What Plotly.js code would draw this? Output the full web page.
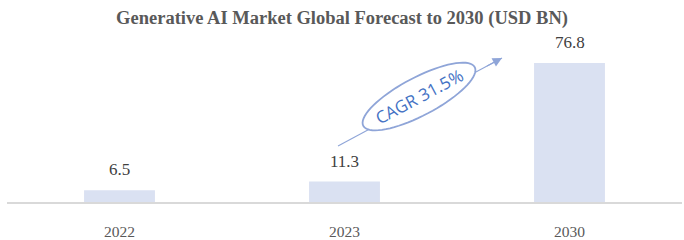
<!DOCTYPE html>
<html>
<head>
<meta charset="utf-8">
<script src="https://cdn.plot.ly/plotly-3.0.1.min.js"></script>
<style>html,body{margin:0;padding:0;background:#fff;}#chart{width:684px;height:240px;}</style>
</head>
<body>
<div id="chart"></div>
<script>
const years = ["2022", "2023", "2030"];
const marketSize = [6.5, 11.3, 76.8];
const cagrLabel = "CAGR 31.5%";

const W = 684, H = 240;
const M = {l: 7, r: 2, t: 40, b: 38};
const PW = W - M.l - M.r, PH = H - M.t - M.b;
const px = x => (x - M.l) / PW;
const py = y => (H - M.b - y) / PH;

// ellipse path in paper coords
const cx = 419, cy = 96.5, a = 63, b = 19, ang = -27.8 * Math.PI / 180;
let path = "";
for (let i = 0; i <= 72; i++) {
  const t = i / 72 * 2 * Math.PI;
  const ex = a * Math.cos(t), ey = b * Math.sin(t);
  const X = cx + ex * Math.cos(ang) - ey * Math.sin(ang);
  const Y = cy + ex * Math.sin(ang) + ey * Math.cos(ang);
  path += (i === 0 ? "M" : "L") + px(X).toFixed(5) + "," + py(Y).toFixed(5);
}
path += "Z";

const tail = [338, 146], head = [502, 58];

// category index positions (category axis treats numeric-looking strings as indices)
const labelAnn = years.map((yr, i) => ({
  x: i, y: marketSize[i], xref: "x", yref: "y",
  text: String(marketSize[i]), showarrow: false,
  yanchor: "bottom", yshift: 9,
  font: {family: "Liberation Serif, Times New Roman, serif", size: 17, color: "#404040"}
}));

const data = [{
  type: "bar", x: years, y: marketSize,
  marker: {color: "#dae1f2"}, hoverinfo: "none"
}];

const layout = {
  width: W, height: H, margin: M,
  paper_bgcolor: "#fff", plot_bgcolor: "#fff",
  showlegend: false, bargap: 0.685,
  title: {text: "Generative AI Market Global Forecast to 2030 (USD BN)",
    x: 0.5, xanchor: "center", y: 1 - 18 / H, yanchor: "middle",
    font: {family: "Liberation Serif, Times New Roman, serif", size: 18.5, color: "#595959", weight: "bold"}},
  xaxis: {type: "category", range: [-0.5, years.length - 0.5], showgrid: false, zeroline: false,
    showline: true, linecolor: "#d9d9d9", linewidth: 2, ticks: "",
    tickfont: {family: "Liberation Serif, Times New Roman, serif", size: 15.5, color: "#595959"},
    ticklabelstandoff: 14},
  yaxis: {range: [0, PH / 1.81], visible: false, showgrid: false, zeroline: false},
  shapes: [
    {type: "line", xref: "paper", yref: "paper", x0: px(tail[0]), y0: py(tail[1]), x1: px(head[0]), y1: py(head[1]),
      line: {color: "#8fa5d8", width: 1.1}},
    {type: "path", xref: "paper", yref: "paper", path: path,
      fillcolor: "#ffffff", line: {color: "#8fa5d8", width: 1.8}}
  ],
  annotations: labelAnn.concat([
    {xref: "paper", yref: "paper", x: px(head[0]), y: py(head[1]), ax: -16.4, ay: 8.8,
      axref: "pixel", ayref: "pixel", showarrow: true, arrowhead: 2, arrowsize: 1.7,
      arrowwidth: 1.1, arrowcolor: "#8fa5d8", text: ""},
    {xref: "paper", yref: "paper", x: px(cx), y: py(cy), showarrow: false,
      text: cagrLabel, textangle: -28,
      font: {family: "Open Sans, Liberation Sans, sans-serif", size: 17, color: "#4472c4"}}
  ])
};

Plotly.newPlot("chart", data, layout, {displayModeBar: false, staticPlot: true});
</script>
</body>
</html>
